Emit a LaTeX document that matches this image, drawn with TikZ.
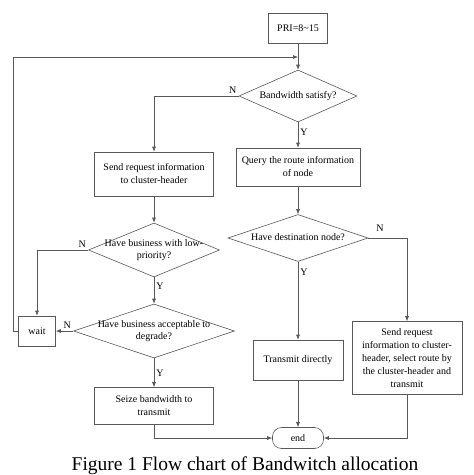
\documentclass[tikz,border=0pt]{standalone}
\usepackage{fontspec}
\setmainfont{Liberation Serif}
\usetikzlibrary{shapes.geometric,arrows.meta}
\tikzset{
  flow/.style={draw=black!65,line width=0.6pt},
  proc/.style={flow,rectangle,align=center,inner sep=1pt,font=\fontsize{10}{13}\selectfont},
  test/.style={flow,diamond,aspect=1,inner sep=0pt,font=\fontsize{10}{12.5}\selectfont},
  term/.style={flow,rectangle,rounded corners=9pt,inner sep=1pt,font=\fontsize{10}{12}\selectfont},
  link/.style={flow,-{Latex[length=5pt,width=4pt]}},
  yn/.style={font=\fontsize{10}{12}\selectfont,inner sep=2pt}
}
% text that may run over the edge of a diamond
\newcommand{\across}[1]{\makebox[0pt]{\begin{tabular}{@{}c@{}}#1\end{tabular}}}

\begin{document}
\begin{tikzpicture}[x=1pt,y=-1pt]
  \useasboundingbox (0,0) rectangle (474,475);

  % nodes
  \node[proc,minimum width=59pt,minimum height=30pt] (prio) at (298,28) {PRI=8\textasciitilde15};
  \node[test,minimum width=118pt,minimum height=52pt] (bw) at (298,96) {\across{Bandwidth satisfy?}};
  \node[proc,minimum width=119pt,minimum height=44pt] (req) at (154,174) {Send request information\\to cluster-header};
  \node[proc,minimum width=124pt,minimum height=38pt] (query) at (298,167) {Query the route information\\of node};
  \node[test,minimum width=131pt,minimum height=54pt] (low) at (154,250) {\across{Have business with low-\\priority?}};
  \node[test,minimum width=140pt,minimum height=47pt] (dest) at (298,238) {\across{Have destination node?}};
  \node[test,minimum width=161pt,minimum height=54pt] (degr) at (154,331) {\across{Have business acceptable to\\degrade?}};
  \node[proc,minimum width=37pt,minimum height=30pt] (wait) at (37,331) {wait};
  \node[proc,minimum width=119pt,minimum height=37pt] (seize) at (154,406) {Seize bandwidth to\\transmit};
  \node[proc,minimum width=90pt,minimum height=40pt] (direct) at (298,360) {Transmit directly};
  \node[proc,minimum width=110pt,minimum height=73pt] (cluster) at (407,358)
    {Send request\\information to cluster-\\header, select route by\\the cluster-header and\\transmit};
  \node[term,minimum width=51pt,minimum height=21pt] (end) at (298,438) {end};
  \coordinate (join) at (298,57);% loop back from wait

  % connectors
  \draw[link] (prio) -- (bw);
  \draw[link] (bw.west) -| node[yn,pos=0,above left] {N} (req.north);
  \draw[link] (bw.south) -- node[yn,pos=0.4,right] {Y} (query.north);
  \draw[link] (req) -- (low);
  \draw[link] (low.west) -| node[yn,pos=0,above left] {N} (wait.north);
  \draw[link] (low.south) -- node[yn,pos=0.35,right] {Y} (degr.north);
  \draw[link] (degr.west) -- node[yn,pos=0,above left] {N} (wait.east);
  \draw[link] (degr.south) -- node[yn,pos=0.5,right] {Y} (seize.north);
  \draw[link] (wait.west) -- ++(-5,0) |- (join);
  \draw[link] (query) -- (dest);
  \draw[link] (dest.east) -| node[yn,pos=0.15,above=4pt] {N} (cluster.north);
  \draw[link] (dest.south) -- node[yn,pos=0.13,right] {Y} (direct.north);
  \draw[link] (direct) -- (end);
  \draw[link] (seize.south) |- (end.west);
  \draw[link] (cluster.south) |- (end.east);

  \node[font=\fontsize{19.5}{22}\selectfont,inner sep=0pt,anchor=south] (caption) at (245,474.5)
    {Figure 1 Flow chart of Bandwitch allocation};
\end{tikzpicture}
\end{document}
